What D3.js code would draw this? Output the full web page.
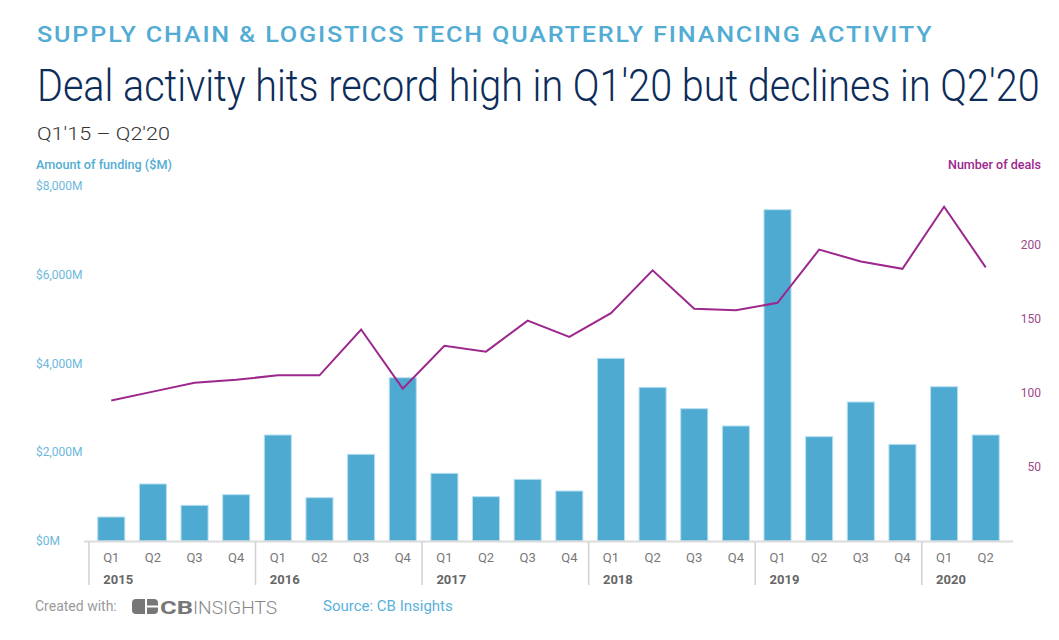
<!DOCTYPE html>
<html>
<head>
<meta charset="utf-8">
<script src="https://cdn.jsdelivr.net/npm/d3@7"></script>
<style>
  html, body { margin: 0; padding: 0; background: #fff; }
  svg { display: block; font-family: Roboto, "Noto Sans", sans-serif; }
</style>
</head>
<body>
<div id="chart"></div>
<script>
// quarters and years
const quarters = ['Q1','Q2','Q3','Q4','Q1','Q2','Q3','Q4','Q1','Q2','Q3','Q4',
                  'Q1','Q2','Q3','Q4','Q1','Q2','Q3','Q4','Q1','Q2'];
const years = ['2015','2016','2017','2018','2019','2020'];
// funding in $M (bars)
const funding = [541, 1285, 804, 1044, 2389, 976, 1954, 3680, 1525, 999, 1390, 1127,
                 4117, 3463, 2982, 2592, 7466, 2351, 3132, 2178, 3477, 2389];
// number of deals (line)
const deals = [95, 101, 107, 109, 112, 112, 143, 103, 132, 128, 149, 138,
               154, 183, 157, 156, 161, 197, 189, 184, 226, 185];
const fundingTicks = [0, 2000, 4000, 6000, 8000];
const dealTicks = [50, 100, 150, 200];

const width = 1059, height = 640;
const blue = '#4eaad0', purple = '#9c278d';

const svg = d3.select('#chart').append('svg')
    .attr('width', width)
    .attr('height', height);

// squeeze a text horizontally so it spans `w` pixels (condensed look)
function fitText(g, x, y, w, str) {
    const t = g.append('text').text(str);
    const natural = t.node().getComputedTextLength();
    t.attr('transform', `translate(${x},${y}) scale(${w / natural},1)`);
    return t;
}

// header texts
const headG = svg.append('g')
    .attr('fill', '#52acd3')
    .attr('font-size', 22)
    .attr('font-weight', 500)
    .attr('letter-spacing', 1.6);
fitText(headG, 37, 42, 897, 'SUPPLY CHAIN & LOGISTICS TECH QUARTERLY FINANCING ACTIVITY');

const titleG = svg.append('g')
    .attr('fill', '#0c2c5a')
    .attr('font-size', 45)
    .attr('font-weight', 300);
fitText(titleG, 37, 101, 1003, "Deal activity hits record high in Q1'20 but declines in Q2'20");

const subG = svg.append('g')
    .attr('fill', '#333')
    .attr('font-size', 19)
    .attr('font-weight', 300);
fitText(subG, 37, 140, 133, "Q1'15 \u2013 Q2'20");

// axis titles
const leftTitle = svg.append('g')
    .attr('fill', '#52acd3')
    .attr('font-size', 13)
    .attr('font-weight', 500);
fitText(leftTitle, 36, 169, 136, 'Amount of funding ($M)');

const rightTitle = svg.append('g')
    .attr('fill', purple)
    .attr('font-size', 13)
    .attr('font-weight', 500);
fitText(rightTitle, 948, 169, 93, 'Number of deals');

// scales
const xScale = d3.scaleBand()
    .domain(d3.range(quarters.length))
    .range([84, 1013])
    .paddingInner(0.35)
    .paddingOuter(0.33);

const yLeft = d3.scaleLinear().domain([0, 8000]).range([541, 186]);
const yRight = d3.scaleLinear().domain([0, 240]).range([541, 186]);

// left tick labels
svg.append('g')
    .selectAll('text')
    .data(fundingTicks)
    .join('text')
    .attr('x', 36)
    .attr('y', d => yLeft(d))
    .attr('dy', '0.35em')
    .attr('fill', '#6cb8dc')
    .attr('font-size', 12)
    .text(d => '$' + d3.format(',')(d) + 'M');

// right tick labels
svg.append('g')
    .selectAll('text')
    .data(dealTicks)
    .join('text')
    .attr('x', 1041)
    .attr('y', d => yRight(d))
    .attr('dy', '0.35em')
    .attr('text-anchor', 'end')
    .attr('fill', '#9a4a8a')
    .attr('font-size', 12)
    .text(d => d);

// bars
svg.append('g')
    .selectAll('rect')
    .data(funding)
    .join('rect')
    .attr('x', (d, i) => xScale(i))
    .attr('y', d => yLeft(d))
    .attr('width', xScale.bandwidth())
    .attr('height', d => yLeft(0) - yLeft(d))
    .attr('fill', blue)
    .attr('stroke', '#b9e0f1')
    .attr('stroke-width', 1);

// baseline
svg.append('line')
    .attr('x1', 84).attr('x2', 1013)
    .attr('y1', 541.5).attr('y2', 541.5)
    .attr('stroke', '#dcdcdc')
    .attr('stroke-width', 2);

// deals line
const line = d3.line()
    .x((d, i) => xScale(i) + xScale.bandwidth() / 2)
    .y(d => yRight(d));

svg.append('path')
    .datum(deals)
    .attr('fill', 'none')
    .attr('stroke', purple)
    .attr('stroke-width', 2)
    .attr('d', line);

// quarter labels
svg.append('g')
    .selectAll('text')
    .data(quarters)
    .join('text')
    .attr('x', (d, i) => xScale(i) + xScale.bandwidth() / 2)
    .attr('y', 557)
    .attr('dy', '0.35em')
    .attr('text-anchor', 'middle')
    .attr('fill', '#777')
    .attr('font-size', 13)
    .text(d => d);

// year groups: separator + label
const sepX = i => xScale(i * 4) - xScale.step() * xScale.paddingInner() / 2 - 1.5;
const yearG = svg.append('g')
    .selectAll('g')
    .data(years)
    .join('g');

yearG.append('line')
    .attr('x1', (d, i) => sepX(i))
    .attr('x2', (d, i) => sepX(i))
    .attr('y1', 542)
    .attr('y2', 585)
    .attr('stroke', '#d0d0d0')
    .attr('stroke-width', 1.5);

yearG.append('text')
    .attr('x', (d, i) => xScale(i * 4) + xScale.bandwidth() / 2 - 8)
    .attr('y', 579)
    .attr('dy', '0.35em')
    .attr('fill', '#666')
    .attr('font-size', 13)
    .attr('font-weight', 700)
    .text(d => d);

// footer
svg.append('text')
    .attr('x', 35).attr('y', 611)
    .attr('fill', '#9a9a9a')
    .attr('font-size', 14)
    .text('Created with:');

const logo = svg.append('g').attr('transform', 'translate(132,599)');
logo.append('rect')
    .attr('width', 26).attr('height', 15).attr('rx', 4)
    .attr('fill', '#777');
logo.append('rect')
    .attr('x', 13).attr('y', 0).attr('width', 2).attr('height', 15)
    .attr('fill', '#fff');
logo.append('rect')
    .attr('x', 13).attr('y', 6.5).attr('width', 13).attr('height', 2)
    .attr('fill', '#fff');
logo.append('text')
    .attr('x', 28).attr('y', 14.5)
    .attr('fill', '#777')
    .attr('font-size', 19)
    .attr('font-weight', 700)
    .attr('textLength', 33)
    .attr('lengthAdjust', 'spacingAndGlyphs')
    .text('CB');
logo.append('text')
    .attr('x', 61).attr('y', 14.5)
    .attr('fill', '#888')
    .attr('font-size', 19)
    .attr('font-weight', 300)
    .attr('textLength', 84)
    .attr('lengthAdjust', 'spacingAndGlyphs')
    .text('INSIGHTS');

svg.append('text')
    .attr('x', 323).attr('y', 611)
    .attr('fill', '#5ab1d8')
    .attr('font-size', 15)
    .text('Source: CB Insights');
</script>
</body>
</html>
